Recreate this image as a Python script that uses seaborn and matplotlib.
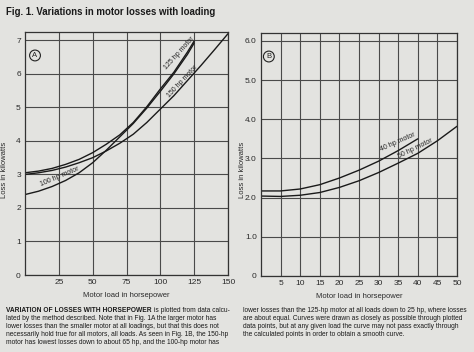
import matplotlib
matplotlib.use("Agg")
import matplotlib.pyplot as plt
import seaborn as sns

# Panel A: losses (kW) vs load (hp)
load_a = [0, 10, 20, 30, 40, 50, 60, 70, 80, 90, 100, 110, 120, 130, 140, 150]
loss_150hp = [3.00, 3.05, 3.12, 3.22, 3.35, 3.50, 3.70, 3.93, 4.20, 4.55, 4.95, 5.35, 5.80, 6.25, 6.72, 7.20]
load_a_short = [0, 10, 20, 30, 40, 50, 60, 70, 80, 90, 100, 110, 120, 125]
loss_125hp = [3.05, 3.10, 3.18, 3.30, 3.45, 3.65, 3.90, 4.18, 4.55, 5.02, 5.55, 6.05, 6.65, 6.98]
loss_100hp = [2.40, 2.50, 2.64, 2.82, 3.05, 3.35, 3.72, 4.12, 4.52, 4.98, 5.48, 6.00, 6.58, 6.92]

# Panel B
load_b40 = [0, 5, 10, 15, 20, 25, 30, 35, 40]
loss_40hp = [2.17, 2.17, 2.22, 2.33, 2.50, 2.70, 2.93, 3.20, 3.50]
load_b50 = [0, 5, 10, 15, 20, 25, 30, 35, 40, 45, 50]
loss_50hp = [2.04, 2.03, 2.06, 2.13, 2.26, 2.43, 2.64, 2.88, 3.13, 3.45, 3.82]

xticks_a = [25, 50, 75, 100, 125, 150]
yticks_a = [0, 1, 2, 3, 4, 5, 6, 7]
xticks_b = [5, 10, 15, 20, 25, 30, 35, 40, 45, 50]
yticks_b = [0, 1, 2, 3, 4, 5, 6]
ylabels_b = ["0", "1.0", "2.0", "3.0", "4.0", "5.0", "6.0"]

caption_bold = "VARIATION OF LOSSES WITH HORSEPOWER"
caption_first = " is plotted from data calcu-"
caption_left = [
    "lated by the method described. Note that in Fig. 1A the larger motor has",
    "lower losses than the smaller motor at all loadings, but that this does not",
    "necessarily hold true for all motors, all loads. As seen in Fig. 1B, the 150-hp",
    "motor has lowest losses down to about 65 hp, and the 100-hp motor has",
]
caption_right = [
    "lower losses than the 125-hp motor at all loads down to 25 hp, where losses",
    "are about equal. Curves were drawn as closely as possible through plotted",
    "data points, but at any given load the curve may not pass exactly through",
    "the calculated points in order to obtain a smooth curve.",
]

sns.set_theme(style="white")
plt.rcParams["font.family"] = ["Liberation Sans", "DejaVu Sans"]
bg = "#e3e3e0"
W, H = 474, 352
fig = plt.figure(figsize=(W / 100, H / 100), dpi=100, facecolor=bg)

def px_axes(l, t, r, b):
    return fig.add_axes([l / W, 1 - b / H, (r - l) / W, (b - t) / H])

ax_a = px_axes(25, 32, 228, 275)
ax_b = px_axes(261, 33, 457, 276)

for ax in (ax_a, ax_b):
    ax.set_facecolor(bg)
    ax.grid(True, color="#4a4a4a", linewidth=0.8)
    ax.set_axisbelow(True)
    for s in ax.spines.values():
        s.set_color("#333333")
        s.set_linewidth(0.9)
    ax.tick_params(length=0, labelsize=6, colors="#2a2a2a", pad=3)

kw = dict(color="#1a1a1a", linewidth=1.0)
sns.lineplot(x=load_a, y=loss_150hp, ax=ax_a, **kw)
sns.lineplot(x=load_a_short, y=loss_125hp, ax=ax_a, **kw)
sns.lineplot(x=load_a_short, y=loss_100hp, ax=ax_a, **kw)
sns.lineplot(x=load_b40, y=loss_40hp, ax=ax_b, **kw)
sns.lineplot(x=load_b50, y=loss_50hp, ax=ax_b, **kw)

ax_a.set_xlim(0, 150)
ax_a.set_ylim(0, 7.25)
ax_a.set_xticks(xticks_a)
ax_a.set_yticks(yticks_a)
ax_b.set_xlim(0, 50)
ax_b.set_ylim(0, 6.2)
ax_b.set_xticks(xticks_b)
ax_b.set_yticks(yticks_b)
ax_b.set_yticklabels(ylabels_b)
for ax in (ax_a, ax_b):
    ax.set_xlabel("Motor load in horsepower", fontsize=5.5, color="#2a2a2a", labelpad=4)
    ax.set_ylabel("")

# curve labels
lab = dict(fontsize=5, color="#222222", ha="center", va="center", rotation_mode="anchor")
ax_a.text(114, 6.62, "125 hp motor", rotation=48, **lab)
ax_a.text(116.5, 5.77, "150 hp motor", rotation=47, **lab)
ax_a.text(25.5, 2.93, "100 hp motor", rotation=23, **lab)
ax_b.text(34.8, 3.42, "40 hp motor", rotation=24, **lab)
ax_b.text(39.4, 3.24, "50 hp motor", rotation=26, **lab)

# circled panel letters
circ = dict(fontsize=5.5, ha="center", va="center", color="#222222",
            bbox=dict(boxstyle="circle,pad=0.25", fc="none", ec="#222222", lw=0.8))
ax_a.text(7.4, 6.55, "A", **circ)
ax_b.text(2.0, 5.6, "B", **circ)

fig.text(5 / W, 1 - 170 / H, "Loss in kilowatts", rotation=90, fontsize=5.5,
         color="#2a2a2a", ha="center", va="center")
fig.text(243 / W, 1 - 170 / H, "Loss in kilowatts", rotation=90, fontsize=5.5,
         color="#2a2a2a", ha="center", va="center")

fig.text(6 / W, 1 - 12 / H, "Fig. 1. Variations in motor losses with loading",
         fontsize=6.9, fontweight="bold", color="#1a1a1a", ha="left", va="center")

# caption, two columns
cap = dict(fontsize=4.8, color="#1a1a1a", ha="left", va="baseline")
bold = fig.text(6 / W, 1 - 312 / H, caption_bold, fontweight="bold", **cap)
renderer = fig.canvas.get_renderer()
x_end = bold.get_window_extent(renderer).x1
fig.text(x_end / W, 1 - 312 / H, caption_first, **cap)
for i, line in enumerate(caption_left):
    fig.text(6 / W, 1 - (320 + 8 * i) / H, line, **cap)
for i, line in enumerate(caption_right):
    fig.text(243 / W, 1 - (312 + 8 * i) / H, line, **cap)

fig.savefig("out.png", dpi=100, facecolor=bg)
